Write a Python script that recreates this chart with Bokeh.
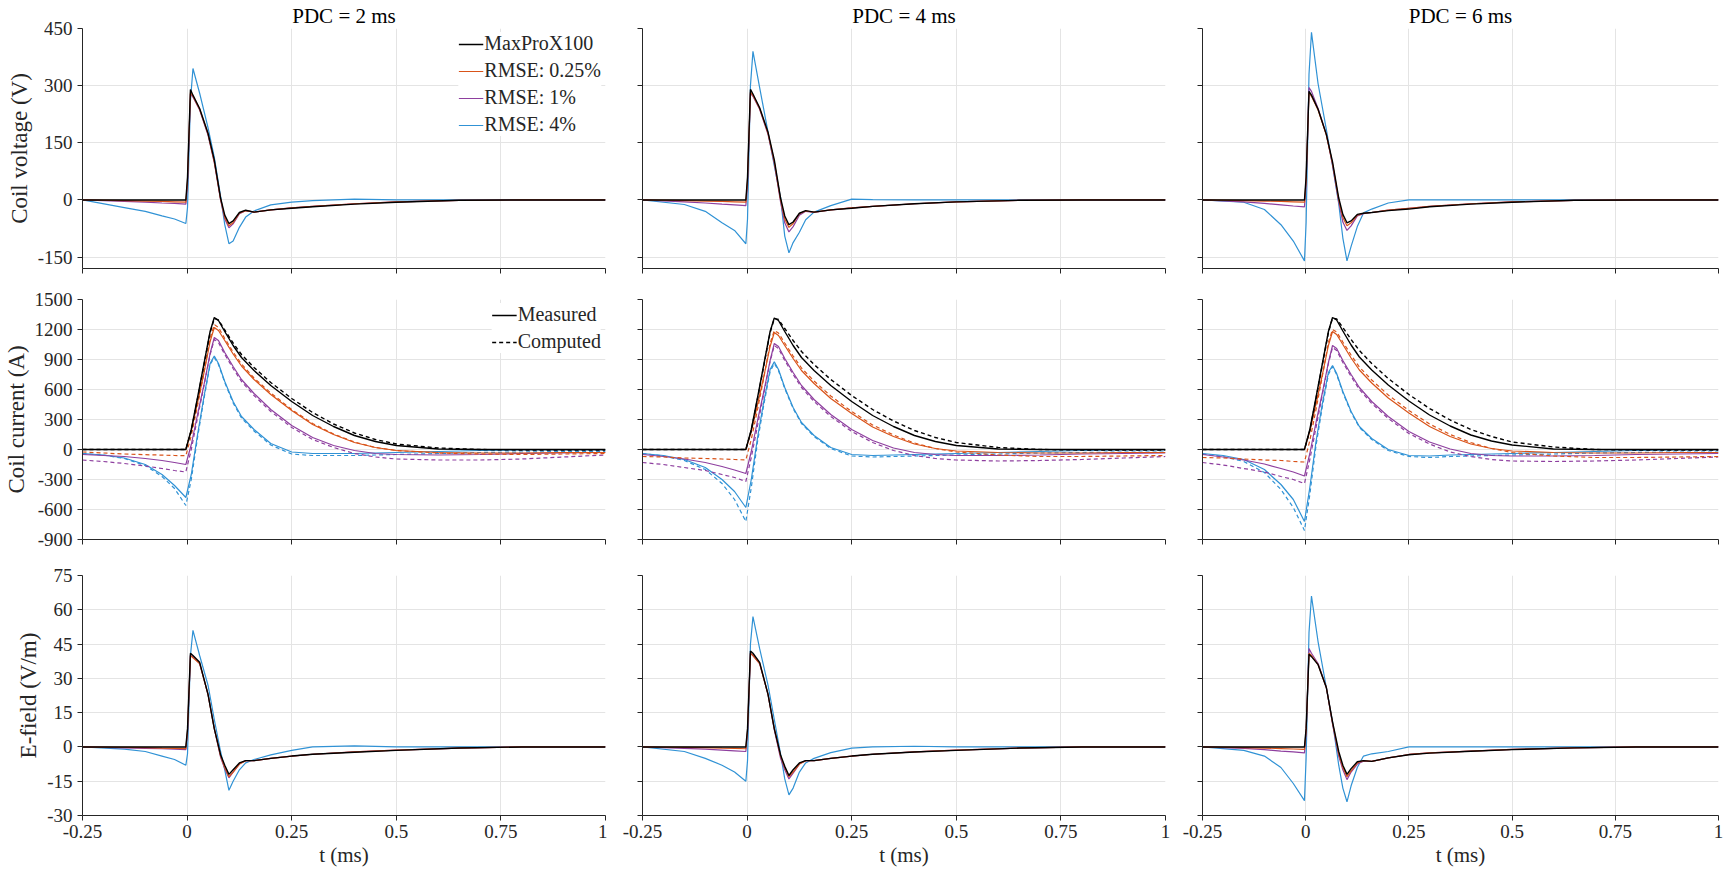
from bokeh.plotting import figure
from bokeh.layouts import gridplot
from bokeh.models import Range1d, FixedTicker, CustomJSTickFormatter, Legend, LegendItem
from bokeh.embed import file_html
from bokeh.resources import INLINE

# ---------------- labels / ticks ----------------
pdc_titles = ["PDC = 2 ms", "PDC = 4 ms", "PDC = 6 ms"]
series_labels = ["MaxProX100", "RMSE: 0.25%", "RMSE: 1%", "RMSE: 4%"]
kind_labels = ["Measured", "Computed"]
row_labels = ["Coil voltage (V)", "Coil current (A)", "E-field (V/m)"]
x_label = "t (ms)"
x_ticks = [-0.25, 0, 0.25, 0.5, 0.75, 1]
volt_ticks = [-150, 0, 150, 300, 450]
cur_ticks = [-900, -600, -300, 0, 300, 600, 900, 1200, 1500]
efield_ticks = [-30, -15, 0, 15, 30, 45, 60, 75]

# ---------------- time samples (ms) ----------------
t_pulse = [-0.25, -0.15, -0.1, -0.06, -0.03, -0.003, 0.001, 0.008, 0.014, 0.03, 0.05, 0.065, 0.08,
           0.09, 0.1, 0.11, 0.125, 0.14, 0.16, 0.2, 0.25, 0.3, 0.4, 0.5, 0.65, 0.8, 1.0]
t_current = [-0.25, -0.2, -0.15, -0.1, -0.06, -0.03, -0.003, 0.01, 0.025, 0.04, 0.055, 0.065, 0.075,
             0.09, 0.11, 0.13, 0.16, 0.2, 0.25, 0.3, 0.35, 0.4, 0.45, 0.5, 0.6, 0.7, 0.8, 0.9, 1.0]

# ---------------- coil voltage (V) ----------------
volt_pdc2_maxpro = [0, 0, 0, 0, 0, 0, 60, 290, 275, 240, 175, 105, 5, -40, -62, -55, -33, -27, -32, -26, -22, -18, -11, -6, -1, 0, 0]
volt_pdc2_rmse025 = [0, -2, -3, -4, -5, -6, 50, 282, 272, 238, 173, 100, 2, -46, -68, -60, -35, -28, -32, -26, -21, -17, -10, -5, -1, 0, 0]
volt_pdc2_rmse1 = [0, -4, -6, -8, -9, -11, 40, 278, 270, 236, 170, 98, 0, -50, -73, -63, -36, -28, -32, -26, -21, -17, -10, -5, -1, 0, 0]
volt_pdc2_rmse4 = [0, -20, -30, -42, -50, -62, -20, 260, 345, 280, 190, 112, 10, -65, -115, -108, -72, -45, -29, -13, -6, -2, 2, 0, 0, 0, 0]

volt_pdc4_maxpro = [0, 0, 0, 0, 0, 0, 60, 290, 278, 242, 178, 105, 5, -42, -65, -58, -35, -28, -32, -26, -22, -17, -10, -5, -1, 0, 0]
volt_pdc4_rmse025 = [0, -2, -3, -4, -5, -6, 50, 283, 274, 240, 175, 100, 0, -50, -72, -62, -36, -29, -32, -26, -21, -17, -10, -5, -1, 0, 0]
volt_pdc4_rmse1 = [0, -5, -8, -11, -13, -15, 40, 280, 272, 238, 172, 96, -5, -60, -84, -70, -40, -30, -33, -26, -21, -17, -10, -5, -1, 0, 0]
volt_pdc4_rmse4 = [0, -12, -30, -60, -80, -115, -50, 300, 390, 295, 178, 90, 6, -95, -139, -112, -85, -52, -32, -15, 2, 1, 0, 0, 0, 0, 0]

volt_pdc6_maxpro = [0, 0, 0, 0, 0, 0, 60, 285, 275, 238, 172, 100, 5, -38, -60, -55, -38, -35, -33, -28, -24, -18, -11, -6, -1, 0, 0]
volt_pdc6_rmse025 = [0, -2, -3, -4, -5, -6, 50, 282, 272, 236, 170, 95, 0, -46, -68, -60, -40, -35, -33, -27, -22, -17, -10, -5, -1, 0, 0]
volt_pdc6_rmse1 = [0, -5, -9, -13, -16, -18, 40, 295, 285, 240, 172, 92, -5, -58, -80, -68, -42, -36, -33, -27, -22, -17, -10, -5, -1, 0, 0]
volt_pdc6_rmse4 = [0, -6, -25, -65, -108, -160, -60, 330, 440, 305, 185, 90, -10, -100, -160, -122, -70, -34, -24, -8, 0, 0, 0, 0, 0, 0, 0]

# ---------------- E-field (V/m) ----------------
efield_pdc2_maxpro = [0, 0, 0, 0, 0, 0, 8, 41, 40, 37, 23, 8, -3.4, -8, -12, -10, -7, -6, -6, -5, -4, -3.2, -2.3, -1.5, -0.5, 0, 0]
efield_pdc2_rmse025 = [0, -0.2, -0.3, -0.5, -0.6, -0.7, 7, 40, 39, 36.5, 23, 8, -4, -9, -13, -11, -7.5, -6, -6, -5, -4, -3.2, -2.2, -1.4, -0.5, 0, 0]
efield_pdc2_rmse1 = [0, -0.4, -0.6, -0.8, -1, -1.2, 6, 40, 39.5, 36.5, 23, 8, -4.5, -9.5, -13.5, -11, -7.5, -6, -6, -5, -4, -3.2, -2.2, -1.4, -0.5, 0, 0]
efield_pdc2_rmse4 = [0, -1, -2, -4, -5.5, -8, -3, 40, 51, 40, 27, 12, -2, -10, -19, -15, -10, -7, -5.5, -3.5, -1.5, 0, 0.5, 0, 0, 0, 0]

efield_pdc4_maxpro = [0, 0, 0, 0, 0, 0, 8, 42, 41, 37, 23, 8, -3.5, -8.5, -12.5, -10, -7, -6, -6, -5, -4, -3.2, -2.2, -1.5, -0.5, 0, 0]
efield_pdc4_rmse025 = [0, -0.2, -0.3, -0.5, -0.6, -0.8, 7, 41, 40, 36.5, 23, 8, -4, -9, -13, -11, -7.5, -6, -6, -5, -4, -3.2, -2.2, -1.4, -0.5, 0, 0]
efield_pdc4_rmse1 = [0, -0.6, -1, -1.4, -1.7, -2, 6, 41, 40, 36.5, 23, 7.5, -5, -10, -14, -11.5, -7.5, -6, -6, -5, -4, -3.2, -2.2, -1.4, -0.5, 0, 0]
efield_pdc4_rmse4 = [0, -2, -5, -8, -11, -15, -6, 45, 57, 43, 27, 12, -3, -14, -21, -18, -11, -7, -5, -2.5, -0.5, 0, 0.3, 0, 0, 0, 0]

efield_pdc6_maxpro = [0, 0, 0, 0, 0, 0, 8, 40.5, 39.5, 36, 26, 11, -2, -8, -12, -9.5, -6.5, -6, -6.3, -4.8, -3.4, -2.7, -1.9, -1.2, -0.4, 0, 0]
efield_pdc6_rmse025 = [0, -0.3, -0.5, -0.7, -0.9, -1.1, 7, 41, 40, 36, 26, 10.5, -3, -9, -13, -10.5, -7, -6, -6.3, -4.8, -3.3, -2.6, -1.8, -1.1, -0.4, 0, 0]
efield_pdc6_rmse1 = [0, -0.6, -1.2, -1.8, -2.2, -2.6, 6, 43, 41, 36.5, 26, 10, -4, -10, -14.3, -11, -7.5, -6.2, -6.3, -4.8, -3.3, -2.6, -1.8, -1.1, -0.4, 0, 0]
efield_pdc6_rmse4 = [0, -1.5, -4, -9, -16, -23.5, -5, 50, 66, 46, 26, 11, -8, -18, -24, -17, -9, -4, -3, -2, 0, 0, 0, 0, 0, 0, 0]

# ---------------- coil current (A), measured / computed ----------------
cur_pdc2_maxpro_meas = [0, 0, 0, 0, 0, 0, 0, 200, 520, 850, 1180, 1320, 1290, 1180, 1040, 920, 790, 640, 480, 340, 230, 140, 80, 40, 5, 0, 0, 0, 0]
cur_pdc2_maxpro_comp = [0, 0, 0, 0, 0, 0, 0, 190, 510, 840, 1170, 1310, 1295, 1195, 1065, 950, 820, 670, 510, 370, 255, 165, 100, 55, 15, 0, -5, -5, -5]
cur_pdc2_rmse025_meas = [0, 0, 0, 0, 0, 0, 0, 190, 470, 760, 1080, 1220, 1190, 1090, 955, 835, 700, 550, 390, 250, 150, 70, 20, -10, -30, -35, -35, -30, -30]
cur_pdc2_rmse025_comp = [-25, -35, -45, -52, -56, -60, -62, 140, 440, 760, 1110, 1250, 1220, 1110, 975, 855, 715, 565, 400, 260, 155, 75, 20, -10, -35, -45, -50, -45, -40]
cur_pdc2_rmse1_meas = [-50, -60, -70, -90, -110, -130, -150, 50, 350, 640, 960, 1120, 1090, 970, 830, 700, 560, 400, 240, 120, 40, -10, -40, -50, -55, -50, -40, -35, -30]
cur_pdc2_rmse1_comp = [-105, -120, -140, -165, -190, -210, -225, 0, 320, 630, 950, 1100, 1070, 950, 810, 680, 540, 380, 220, 100, 20, -40, -75, -95, -105, -105, -95, -75, -55]
cur_pdc2_rmse4_meas = [-40, -55, -85, -150, -250, -360, -480, -250, 150, 520, 860, 935, 860, 680, 480, 330, 200, 60, -25, -40, -40, -40, -35, -30, -20, -10, -5, -5, -5]
cur_pdc2_rmse4_comp = [-40, -55, -90, -160, -270, -390, -560, -300, 120, 500, 850, 920, 850, 670, 465, 315, 185, 45, -45, -60, -60, -60, -55, -50, -40, -30, -25, -20, -20]

cur_pdc4_maxpro_meas = [0, 0, 0, 0, 0, 0, 0, 200, 520, 850, 1180, 1315, 1290, 1180, 1040, 920, 790, 640, 480, 340, 230, 140, 80, 40, 5, 0, 0, 0, 0]
cur_pdc4_maxpro_comp = [0, 0, 0, 0, 0, 0, 0, 190, 510, 840, 1170, 1310, 1300, 1210, 1090, 980, 850, 700, 540, 400, 285, 190, 120, 70, 20, 0, -5, -5, -5]
cur_pdc4_rmse025_meas = [0, 0, 0, 0, 0, 0, 0, 180, 450, 730, 1030, 1170, 1140, 1040, 910, 790, 660, 510, 360, 225, 130, 55, 10, -15, -30, -35, -35, -30, -30]
cur_pdc4_rmse025_comp = [-70, -75, -85, -90, -95, -100, -105, 100, 400, 720, 1060, 1190, 1165, 1065, 935, 815, 685, 535, 380, 245, 145, 65, 10, -25, -55, -70, -70, -65, -60]
cur_pdc4_rmse1_meas = [-50, -70, -95, -130, -170, -205, -240, -20, 290, 580, 890, 1060, 1030, 910, 770, 640, 500, 350, 200, 90, 15, -30, -50, -60, -60, -55, -45, -40, -35]
cur_pdc4_rmse1_comp = [-130, -150, -180, -210, -250, -280, -320, -80, 240, 560, 880, 1040, 1010, 890, 750, 620, 480, 330, 180, 70, -10, -60, -90, -105, -115, -110, -100, -85, -70]
cur_pdc4_rmse4_meas = [-40, -60, -100, -180, -300, -420, -580, -300, 120, 480, 800, 876, 800, 620, 420, 270, 140, 20, -50, -60, -55, -50, -45, -40, -30, -20, -10, -5, -5]
cur_pdc4_rmse4_comp = [-40, -65, -110, -200, -340, -500, -720, -380, 80, 450, 780, 860, 790, 610, 410, 260, 130, 10, -65, -75, -70, -65, -60, -55, -45, -35, -30, -25, -25]

cur_pdc6_maxpro_meas = [0, 0, 0, 0, 0, 0, 0, 200, 520, 850, 1180, 1320, 1295, 1185, 1045, 925, 795, 645, 485, 345, 235, 145, 85, 45, 5, 0, 0, 0, 0]
cur_pdc6_maxpro_comp = [0, 0, 0, 0, 0, 0, 0, 190, 510, 840, 1170, 1315, 1305, 1220, 1100, 990, 860, 710, 550, 410, 295, 200, 130, 75, 25, 0, -5, -5, -5]
cur_pdc6_rmse025_meas = [0, 0, 0, 0, 0, 0, 0, 180, 455, 740, 1040, 1180, 1150, 1050, 915, 795, 665, 515, 365, 230, 130, 55, 10, -15, -30, -35, -35, -30, -30]
cur_pdc6_rmse025_comp = [-80, -85, -95, -105, -110, -120, -125, 90, 400, 725, 1070, 1200, 1175, 1075, 945, 825, 695, 545, 390, 255, 150, 70, 10, -30, -65, -80, -80, -75, -70]
cur_pdc6_rmse1_meas = [-50, -75, -105, -145, -190, -225, -265, -40, 270, 560, 870, 1040, 1010, 890, 750, 620, 480, 330, 180, 75, 5, -40, -60, -65, -65, -60, -50, -45, -40]
cur_pdc6_rmse1_comp = [-130, -155, -190, -225, -270, -300, -340, -100, 220, 540, 860, 1020, 990, 870, 730, 600, 460, 310, 160, 55, -25, -70, -100, -115, -120, -115, -105, -90, -75]
cur_pdc6_rmse4_meas = [-40, -60, -100, -200, -350, -500, -720, -380, 80, 450, 770, 840, 760, 580, 380, 230, 110, 0, -60, -65, -55, -50, -45, -40, -30, -20, -10, -5, -5]
cur_pdc6_rmse4_comp = [-45, -70, -120, -230, -400, -580, -810, -450, 40, 420, 750, 830, 750, 570, 370, 220, 100, -10, -70, -80, -70, -65, -60, -55, -45, -35, -30, -25, -25]

# ---------------- assemble ----------------
volt = [
    [volt_pdc2_maxpro, volt_pdc2_rmse025, volt_pdc2_rmse1, volt_pdc2_rmse4],
    [volt_pdc4_maxpro, volt_pdc4_rmse025, volt_pdc4_rmse1, volt_pdc4_rmse4],
    [volt_pdc6_maxpro, volt_pdc6_rmse025, volt_pdc6_rmse1, volt_pdc6_rmse4],
]
efield = [
    [efield_pdc2_maxpro, efield_pdc2_rmse025, efield_pdc2_rmse1, efield_pdc2_rmse4],
    [efield_pdc4_maxpro, efield_pdc4_rmse025, efield_pdc4_rmse1, efield_pdc4_rmse4],
    [efield_pdc6_maxpro, efield_pdc6_rmse025, efield_pdc6_rmse1, efield_pdc6_rmse4],
]
cur_meas = [
    [cur_pdc2_maxpro_meas, cur_pdc2_rmse025_meas, cur_pdc2_rmse1_meas, cur_pdc2_rmse4_meas],
    [cur_pdc4_maxpro_meas, cur_pdc4_rmse025_meas, cur_pdc4_rmse1_meas, cur_pdc4_rmse4_meas],
    [cur_pdc6_maxpro_meas, cur_pdc6_rmse025_meas, cur_pdc6_rmse1_meas, cur_pdc6_rmse4_meas],
]
cur_comp = [
    [cur_pdc2_maxpro_comp, cur_pdc2_rmse025_comp, cur_pdc2_rmse1_comp, cur_pdc2_rmse4_comp],
    [cur_pdc4_maxpro_comp, cur_pdc4_rmse025_comp, cur_pdc4_rmse1_comp, cur_pdc4_rmse4_comp],
    [cur_pdc6_maxpro_comp, cur_pdc6_rmse025_comp, cur_pdc6_rmse1_comp, cur_pdc6_rmse4_comp],
]

COLORS = ["#000000", "#D95319", "#8E3F9F", "#3092D5"]
WIDTHS = [1.4, 1.2, 1.2, 1.2]
FONT = "'Liberation Serif', 'DejaVu Serif', serif"
AX = "#262626"
GRID = "#e4e4e4"
DASH = "4 3"

y_ranges = [(-180, 450), (-900, 1500), (-30, 75)]
y_tick_sets = [volt_ticks, cur_ticks, efield_ticks]
frame_w = [523, 523, 516]
border_l = [78, 31, 31]
border_r = [6, 6, 10]
border_t = [28, 13, 12]
border_b = [18, 24, 58]

fmt_plain = CustomJSTickFormatter(code="return String(tick);")
fmt_blank = CustomJSTickFormatter(code="return '';")

rows = []
for r in range(3):
    row_figs = []
    for c in range(3):
        p = figure(frame_width=frame_w[c], frame_height=240,
                   x_range=Range1d(-0.25, 1), y_range=Range1d(*y_ranges[r]),
                   output_backend="svg", toolbar_location=None,
                   min_border_left=border_l[c], min_border_right=border_r[c],
                   min_border_top=border_t[r], min_border_bottom=border_b[r])
        p.outline_line_color = None
        p.background_fill_color = "white"
        p.border_fill_color = "white"

        p.xaxis.ticker = FixedTicker(ticks=x_ticks)
        p.yaxis.ticker = FixedTicker(ticks=y_tick_sets[r])
        for ax in (p.xaxis[0], p.yaxis[0]):
            ax.axis_line_color = AX
            ax.axis_line_width = 1
            ax.major_tick_line_color = AX
            ax.major_tick_out = 5
            ax.major_tick_in = 0
            ax.minor_tick_line_color = None
            ax.major_label_text_font = FONT
            ax.major_label_text_font_size = "19px"
            ax.major_label_text_color = AX
            ax.axis_label_text_font = FONT
            ax.axis_label_text_font_style = "normal"
            ax.axis_label_text_color = AX
        if r == 2:
            p.xaxis.formatter = fmt_plain
            p.xaxis.major_label_standoff = 4
        else:
            p.xaxis.formatter = fmt_blank
            p.xaxis.major_label_text_font_size = "0px"
            p.xaxis.major_label_standoff = 0
        if c == 0:
            p.yaxis.formatter = fmt_plain
            p.yaxis.major_label_standoff = 5
        else:
            p.yaxis.formatter = fmt_blank
            p.yaxis.major_label_text_font_size = "0px"
            p.yaxis.major_label_standoff = 0
        p.grid.grid_line_color = GRID
        p.grid.grid_line_width = 1

        if c == 0:
            p.yaxis.axis_label = row_labels[r]
            p.yaxis.axis_label_text_font_size = "23px"
            p.yaxis.axis_label_standoff = 3
        if r == 2:
            p.xaxis.axis_label = x_label
            p.xaxis.axis_label_text_font_size = "21px"
            p.xaxis.axis_label_standoff = 2
        if r == 0:
            p.title.text = pdc_titles[c]
            p.title.align = "center"
            p.title.text_font = FONT
            p.title.text_font_size = "21px"
            p.title.text_font_style = "normal"
            p.title.text_color = "#000000"
            p.title.standoff = 1

        meas_r = {}
        comp_r = {}
        for k in [3, 2, 1, 0]:
            if r == 0:
                meas_r[k] = p.line(t_pulse, volt[c][k], line_color=COLORS[k], line_width=WIDTHS[k])
            elif r == 2:
                meas_r[k] = p.line(t_pulse, efield[c][k], line_color=COLORS[k], line_width=WIDTHS[k])
            else:
                meas_r[k] = p.line(t_current, cur_meas[c][k], line_color=COLORS[k], line_width=WIDTHS[k])
                comp_r[k] = p.line(t_current, cur_comp[c][k], line_color=COLORS[k], line_width=WIDTHS[k],
                                   line_dash=DASH)

        legend_items = None
        if r == 0 and c == 0:
            legend_items = [LegendItem(label=series_labels[k], renderers=[meas_r[k]]) for k in range(4)]
        if r == 1 and c == 0:
            legend_items = [LegendItem(label=kind_labels[0], renderers=[meas_r[0]]),
                            LegendItem(label=kind_labels[1], renderers=[comp_r[0]])]
        if legend_items:
            lg = Legend(items=legend_items, location="top_right",
                        label_text_font=FONT, label_text_font_size="20px", label_text_color=AX,
                        glyph_width=25, glyph_height=20, label_height=20, label_standoff=1,
                        spacing=4, padding=4, margin=4,
                        border_line_color=None, background_fill_color="white", background_fill_alpha=1.0)
            p.add_layout(lg)
        row_figs.append(p)
    rows.append(row_figs)

grid = gridplot(rows, toolbar_location=None)
open("out.html", "w").write(file_html(grid, INLINE))
